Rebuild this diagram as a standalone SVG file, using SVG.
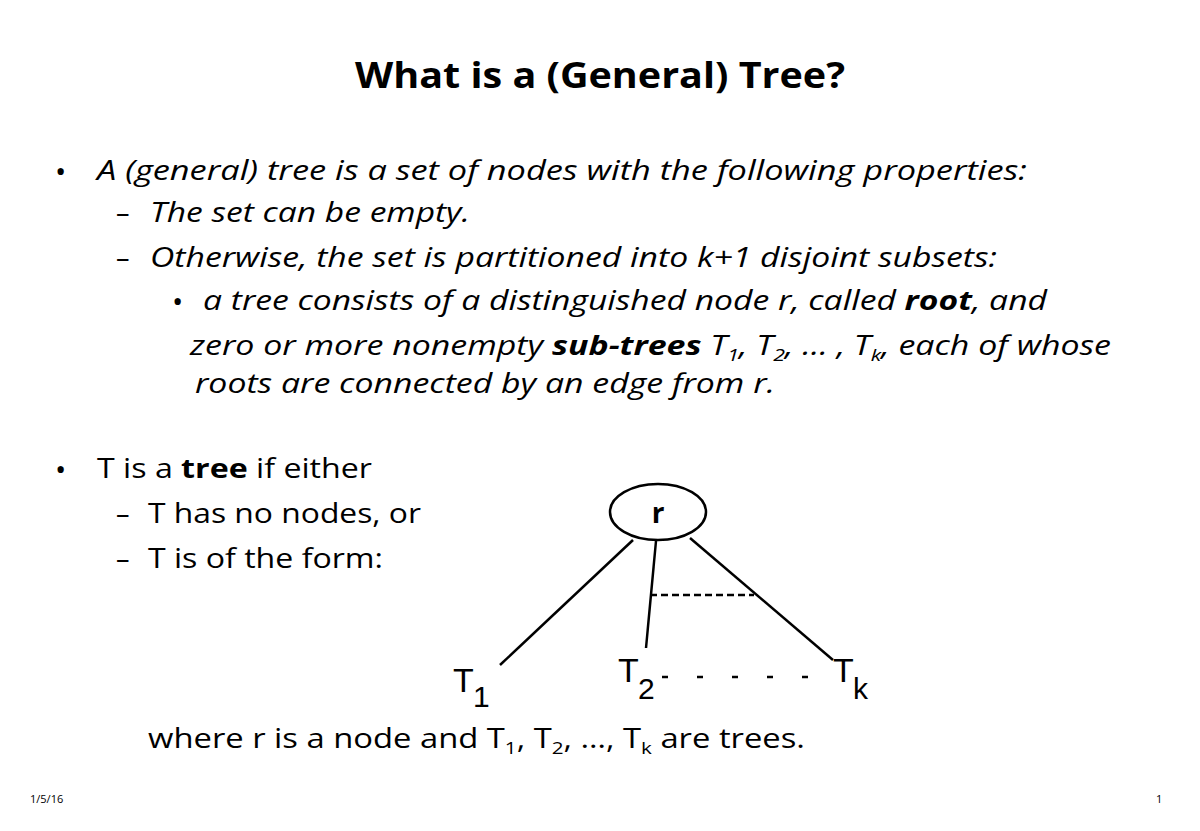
<svg xmlns="http://www.w3.org/2000/svg" width="1200" height="831" viewBox="0 0 1200 831">
<style>
text{font-family:"Open Sans","Liberation Sans",sans-serif;fill:#000}
.b{font-size:27px}
.i{font-style:italic}
.d{font-size:30px}
.t{font-family:"Liberation Sans",Arial,sans-serif;font-size:34px}
.s{font-family:"Liberation Sans",Arial,sans-serif;font-size:30px}
.e{stroke:#000;stroke-width:2.5;fill:none}
</style>
<rect width="1200" height="831" fill="#fff"/>
<text x="355" y="88" font-size="36" font-weight="bold" textLength="490" lengthAdjust="spacingAndGlyphs">What is a (General) Tree?</text>
<g class="b">
<text x="55" y="182" class="d">•</text>
<text x="97" y="180" class="i" textLength="930" lengthAdjust="spacingAndGlyphs">A (general) tree is a set of nodes with the following properties:</text>
<text x="116" y="222">–</text>
<text x="150" y="222" class="i" textLength="320" lengthAdjust="spacingAndGlyphs">The set can be empty.</text>
<text x="116" y="267">–</text>
<text x="150" y="267" class="i" textLength="847" lengthAdjust="spacingAndGlyphs">Otherwise, the set is partitioned into k+1 disjoint subsets:</text>
<text x="172" y="312" class="d">•</text>
<text x="203" y="310" class="i" textLength="844" lengthAdjust="spacingAndGlyphs">a tree consists of a distinguished node r, called <tspan font-weight="bold">root</tspan>, and</text>
<text x="190" y="355" class="i" textLength="921" lengthAdjust="spacingAndGlyphs">zero or more nonempty <tspan font-weight="bold">sub-trees</tspan> T<tspan font-size="17" dy="6">1</tspan><tspan dy="-6">, T</tspan><tspan font-size="17" dy="6">2</tspan><tspan dy="-6">, … , T</tspan><tspan font-size="17" dy="6">k</tspan><tspan dy="-6">, each of whose</tspan></text>
<text x="195" y="393" class="i" textLength="580" lengthAdjust="spacingAndGlyphs">roots are connected by an edge from r.</text>
<text x="55" y="480" class="d">•</text>
<text x="97" y="478" textLength="275" lengthAdjust="spacingAndGlyphs">T is a <tspan font-weight="bold">tree</tspan> if either</text>
<text x="116" y="523">–</text>
<text x="148" y="523" textLength="273" lengthAdjust="spacingAndGlyphs">T has no nodes, or</text>
<text x="116" y="568">–</text>
<text x="148" y="568" textLength="235" lengthAdjust="spacingAndGlyphs">T is of the form:</text>
<text x="148" y="748" textLength="657" lengthAdjust="spacingAndGlyphs">where r is a node and T<tspan font-size="17" dy="6">1</tspan><tspan dy="-6">, T</tspan><tspan font-size="17" dy="6">2</tspan><tspan dy="-6">, …, T</tspan><tspan font-size="17" dy="6">k</tspan><tspan dy="-6">  are trees.</tspan></text>
</g>
<g id="connectors">
<line class="e" x1="633" y1="540" x2="500" y2="665"/>
<line class="e" x1="656" y1="541" x2="646" y2="648"/>
<line class="e" x1="690" y1="538" x2="833" y2="660"/>
<line class="e" x1="650" y1="595" x2="754" y2="595" stroke-dasharray="7,4"/>
<line class="e" x1="662" y1="677" x2="810" y2="677" stroke-dasharray="6,29" stroke-width="3"/>
</g>
<g id="node-r">
<ellipse cx="658" cy="512" rx="48" ry="28" fill="#fff" stroke="#000" stroke-width="2.5"/>
<text x="658" y="523" text-anchor="middle" font-family="Liberation Sans" font-weight="bold" font-size="28">r</text>
</g>
<g id="node-t1"><text x="453" y="692" class="t">T</text><text x="473" y="707" class="s">1</text></g>
<g id="node-t2"><text x="618" y="682" class="t">T</text><text x="638" y="699" class="s">2</text></g>
<g id="node-tk"><text x="833" y="682" class="t">T</text><text x="853" y="699" class="s">k</text></g>
<text x="30" y="803" font-size="11">1/5/16</text>
<text x="1156" y="803" font-size="11">1</text>
</svg>
